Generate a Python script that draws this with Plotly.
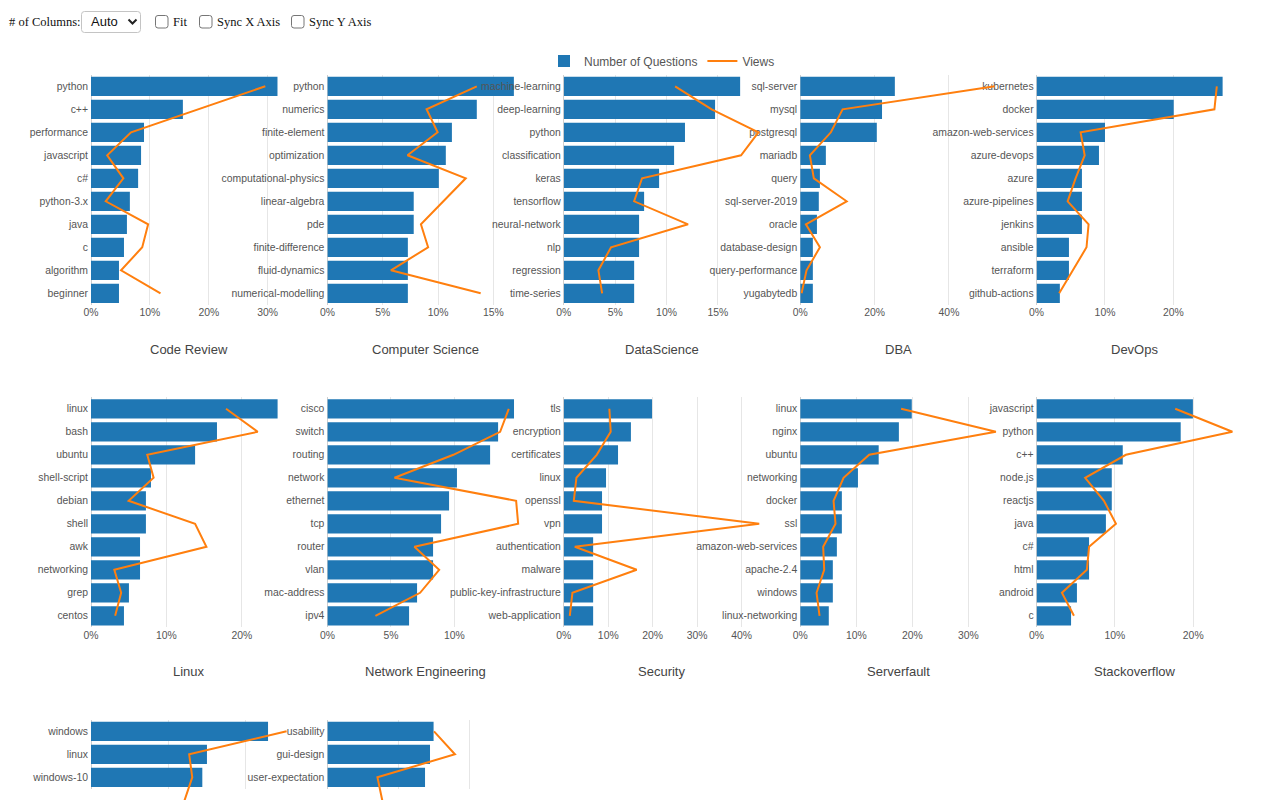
import plotly.graph_objects as go

# ---------------- data (percent shares) ----------------
code_review_tags = ["python", "c++", "performance", "javascript", "c#", "python-3.x", "java", "c", "algorithm", "beginner"]
code_review_questions = [31.7, 15.6, 9.0, 8.5, 8.0, 6.6, 6.1, 5.6, 4.75, 4.75]
code_review_views = [29.6, 18.1, 6.8, 2.75, 5.5, 2.5, 9.7, 8.7, 5.1, 11.8]

computer_science_tags = ["python", "numerics", "finite-element", "optimization", "computational-physics", "linear-algebra", "pde", "finite-difference", "fluid-dynamics", "numerical-modelling"]
computer_science_questions = [16.85, 13.5, 11.25, 10.7, 10.07, 7.8, 7.8, 7.27, 7.27, 7.27]
computer_science_views = [13.5, 8.96, 9.96, 7.24, 12.5, 10.5, 8.45, 9.1, 5.74, 13.85]

datascience_tags = ["machine-learning", "deep-learning", "python", "classification", "keras", "tensorflow", "neural-network", "nlp", "regression", "time-series"]
datascience_questions = [17.17, 14.73, 11.8, 10.74, 9.28, 7.82, 7.33, 7.33, 6.85, 6.85]
datascience_views = [10.84, 14.4, 18.95, 17.26, 7.62, 6.85, 12.1, 4.6, 3.37, 3.73]

dba_tags = ["sql-server", "mysql", "postgresql", "mariadb", "query", "sql-server-2019", "oracle", "database-design", "query-performance", "yugabytedb"]
dba_questions = [25.45, 22.0, 20.6, 6.9, 5.3, 5.0, 4.5, 3.4, 3.4, 3.4]
dba_views = [52.3, 11.4, 8.25, 2.6, 3.67, 12.5, 1.53, 5.3, 1.7, 0.37]

devops_tags = ["kubernetes", "docker", "amazon-web-services", "azure-devops", "azure", "azure-pipelines", "jenkins", "ansible", "terraform", "github-actions"]
devops_questions = [27.2, 20.05, 10.0, 9.12, 6.63, 6.63, 6.63, 4.73, 4.73, 3.4]
devops_views = [26.35, 26.0, 6.44, 7.03, 5.7, 4.54, 7.6, 7.3, 5.3, 3.3]

linux_tags = ["linux", "bash", "ubuntu", "shell-script", "debian", "shell", "awk", "networking", "grep", "centos"]
linux_questions = [24.77, 16.7, 13.8, 7.95, 7.28, 7.28, 6.5, 6.5, 5.03, 4.37]
linux_views = [17.9, 22.1, 7.46, 8.3, 4.99, 13.8, 15.3, 3.09, 4.0, 3.2]

network_tags = ["cisco", "switch", "routing", "network", "ethernet", "tcp", "router", "vlan", "mac-address", "ipv4"]
network_questions = [14.7, 13.44, 12.81, 10.2, 9.58, 8.95, 8.32, 8.32, 7.06, 6.43]
network_views = [14.28, 13.6, 9.92, 5.28, 14.86, 15.02, 6.85, 8.8, 7.3, 3.78]

security_tags = ["tls", "encryption", "certificates", "linux", "openssl", "vpn", "authentication", "malware", "public-key-infrastructure", "web-application"]
security_questions = [19.85, 15.1, 12.2, 9.5, 8.6, 8.6, 6.6, 6.6, 6.6, 6.6]
security_views = [10.25, 10.55, 7.4, 2.84, 2.25, 43.96, 2.47, 16.4, 1.94, 1.35]

serverfault_tags = ["linux", "nginx", "ubuntu", "networking", "docker", "ssl", "amazon-web-services", "apache-2.4", "windows", "linux-networking"]
serverfault_questions = [19.9, 17.6, 14.0, 10.3, 7.43, 7.43, 6.54, 5.82, 5.82, 5.1]
serverfault_views = [18.0, 34.9, 12.3, 7.73, 5.95, 6.3, 4.1, 4.28, 2.92, 3.45]

stackoverflow_tags = ["javascript", "python", "c++", "node.js", "reactjs", "java", "c#", "html", "android", "c"]
stackoverflow_questions = [19.96, 18.4, 11.0, 9.6, 9.6, 8.85, 6.7, 6.7, 5.15, 4.4]
stackoverflow_views = [17.7, 25.0, 11.4, 6.2, 8.6, 10.13, 6.7, 6.42, 3.23, 4.77]

superuser_tags = ["windows", "linux", "windows-10", "windows-11"]
superuser_questions = [22.9, 15.0, 14.4]
superuser_views = [25.3, 12.7, 13.1, 12.1]

ux_tags = ["usability", "gui-design", "user-expectation", "user-behavior"]
ux_questions = [14.9, 14.4, 13.7]
ux_views = [14.96, 17.9, 7.02, 7.7]

site_titles = ["Code Review", "Computer Science", "DataScience", "DBA", "DevOps",
               "Linux", "Network Engineering", "Security", "Serverfault", "Stackoverflow",
               "Superuser", "UX"]

SITES = [
    (code_review_tags, code_review_questions, code_review_views),
    (computer_science_tags, computer_science_questions, computer_science_views),
    (datascience_tags, datascience_questions, datascience_views),
    (dba_tags, dba_questions, dba_views),
    (devops_tags, devops_questions, devops_views),
    (linux_tags, linux_questions, linux_views),
    (network_tags, network_questions, network_views),
    (security_tags, security_questions, security_views),
    (serverfault_tags, serverfault_questions, serverfault_views),
    (stackoverflow_tags, stackoverflow_questions, stackoverflow_views),
    (superuser_tags, superuser_questions, superuser_views),
    (ux_tags, ux_questions, ux_views),
]

# ---------------- layout / style ----------------
AXIS_MAX = [31.7, 16.87, 18.18, 50.2, 27.3, 24.75, 14.7, 42.0, 33.3, 23.84, 24.15, 26.2]
TICK_STEP = [10, 5, 5, 20, 10, 10, 5, 10, 10, 10, 10, 10]

W, H = 1280, 800
def fx(px):
    return px / W
def fy(py):
    return 1 - py / H

COL_X0 = [91.0, 327.4, 563.8, 800.2, 1036.6]
PLOT_W = 186.7
ROW_Y0 = [74.8, 397.3, 719.8]
CAT_H = 23.0

BAR_COLOR = "#1f77b4"
LINE_COLOR = "#ff7f0e"
SANS = "Liberation Sans, Arial, sans-serif"
SERIF = "Liberation Serif, Times New Roman, serif"
YTICK_FONT = dict(family=SANS, size=10.4, color="#555")
XTICK_FONT = dict(family=SANS, size=10.4, color="#555")

fig = go.Figure()
layout = {}
annotations = []
NS = len(SITES)

# bars first (so they come first in the legend), lines after (drawn on top)
for i, (tags, q, v) in enumerate(SITES):
    k = i + 1
    fig.add_trace(go.Bar(x=q, y=tags[:len(q)], orientation="h",
                         xaxis=f"x{k}", yaxis=f"y{k}",
                         marker=dict(color=BAR_COLOR, line=dict(width=0)),
                         name="Number of Questions", legendgroup="q",
                         showlegend=(i == 0)))
for i, (tags, q, v) in enumerate(SITES):
    k = i + 1 + NS
    fig.add_trace(go.Scatter(x=v, y=tags[:len(v)], mode="lines",
                             xaxis=f"x{k}", yaxis=f"y{k}",
                             line=dict(color=LINE_COLOR, width=2),
                             name="Views", legendgroup="v",
                             showlegend=(i == 0)))

for i, (tags, q, v) in enumerate(SITES):
    r, c = divmod(i, 5)
    x0 = COL_X0[c]
    y0 = ROW_Y0[r]
    nvis = 10 if r < 2 else 3
    y1 = y0 + nvis * CAT_H
    k = i + 1
    kl = i + 1 + NS
    sx = "" if k == 1 else str(k)
    layout[f"xaxis{sx}"] = dict(
        domain=[fx(x0), fx(x0 + PLOT_W)], anchor=f"y{k}",
        range=[0, AXIS_MAX[i]], dtick=TICK_STEP[i], tick0=0, ticksuffix="%",
        showgrid=True, gridcolor="#e6e6e6", gridwidth=1,
        zeroline=True, zerolinecolor="#cfcfcf", zerolinewidth=1,
        showline=False, ticks="", tickfont=XTICK_FONT,
        showticklabels=(r < 2), fixedrange=True, automargin=False)
    layout[f"yaxis{sx}"] = dict(
        domain=[fy(y1), fy(y0)], anchor=f"x{k}", type="category",
        categoryorder="array", categoryarray=tags,
        range=[nvis - 0.5, -0.5], showgrid=False, zeroline=False,
        showline=False, ticks="", tickfont=YTICK_FONT, ticklabelstandoff=2,
        fixedrange=True, automargin=False)
    # line axes: same scale, but allowed to extend to the right (and down for row 3)
    ly1 = y1 if r < 2 else H
    layout[f"xaxis{kl}"] = dict(
        domain=[fx(x0), 1.0], anchor=f"y{kl}",
        range=[0, AXIS_MAX[i] * (W - x0) / PLOT_W], visible=False, fixedrange=True)
    layout[f"yaxis{kl}"] = dict(
        domain=[fy(ly1), fy(y0)], anchor=f"x{kl}", type="category",
        categoryorder="array", categoryarray=tags,
        range=[-0.5 + (ly1 - y0) / CAT_H, -0.5], visible=False, fixedrange=True)
    if r < 2:
        annotations.append(dict(
            text=site_titles[i], x=fx(x0 + 98), y=fy(y1 + 44.2),
            xref="paper", yref="paper", xanchor="center", yanchor="middle",
            showarrow=False, font=dict(family=SANS, size=13, color="#444")))

# ---------------- page controls (mimicked) ----------------
def rrect(xa, ya, xb, yb, rad):
    rx, ry = rad / W, rad / H
    X0, X1 = fx(xa), fx(xb)
    Y0, Y1 = fy(ya), fy(yb)  # Y0 top (larger), Y1 bottom
    return (f"M{X0+rx},{Y0} L{X1-rx},{Y0} Q{X1},{Y0} {X1},{Y0-ry} "
            f"L{X1},{Y1+ry} Q{X1},{Y1} {X1-rx},{Y1} L{X0+rx},{Y1} "
            f"Q{X0},{Y1} {X0},{Y1+ry} L{X0},{Y0-ry} Q{X0},{Y0} {X0+rx},{Y0} Z")

shapes = []
shapes.append(dict(type="path", xref="paper", yref="paper", path=rrect(81.5, 11.5, 140.5, 32.5, 3),
                   line=dict(color="#c4c4c4", width=1), fillcolor="white"))
shapes.append(dict(type="path", xref="paper", yref="paper",
                   path=f"M{fx(128.5)},{fy(19.5)} L{fx(132.5)},{fy(23.5)} L{fx(136.5)},{fy(19.5)}",
                   line=dict(color="#222", width=2)))
for bx in [155.5, 199.5, 291.5]:
    shapes.append(dict(type="path", xref="paper", yref="paper", path=rrect(bx, 15.5, bx + 12.5, 28, 2.5),
                       line=dict(color="#767676", width=1), fillcolor="white"))

ctrl_texts = [("# of Columns:", 7, SERIF, 12.5), ("Auto", 89, SANS, 13),
              ("Fit", 171, SERIF, 12.5), ("Sync X Axis", 215, SERIF, 12.5),
              ("Sync Y Axis", 307, SERIF, 12.5)]
for txt, px, fam, size in ctrl_texts:
    annotations.append(dict(text=txt, x=fx(px), y=fy(22), xref="paper", yref="paper",
                            xanchor="left", yanchor="middle", showarrow=False,
                            font=dict(family=fam, size=size, color="#111")))

fig.update_layout(
    width=W, height=H, autosize=False,
    margin=dict(l=0, r=0, t=0, b=0, pad=0, autoexpand=False),
    paper_bgcolor="white", plot_bgcolor="rgba(0,0,0,0)",
    bargap=0.16, hovermode=False,
    showlegend=True,
    legend=dict(orientation="h", x=fx(544), y=fy(61), xanchor="left", yanchor="middle",
                font=dict(family=SANS, size=12, color="#555"), bgcolor="rgba(0,0,0,0)",
                borderwidth=0, itemclick=False, itemdoubleclick=False),
    annotations=annotations, shapes=shapes,
    **layout)

fig.write_html("out.html", config={"displayModeBar": False})
